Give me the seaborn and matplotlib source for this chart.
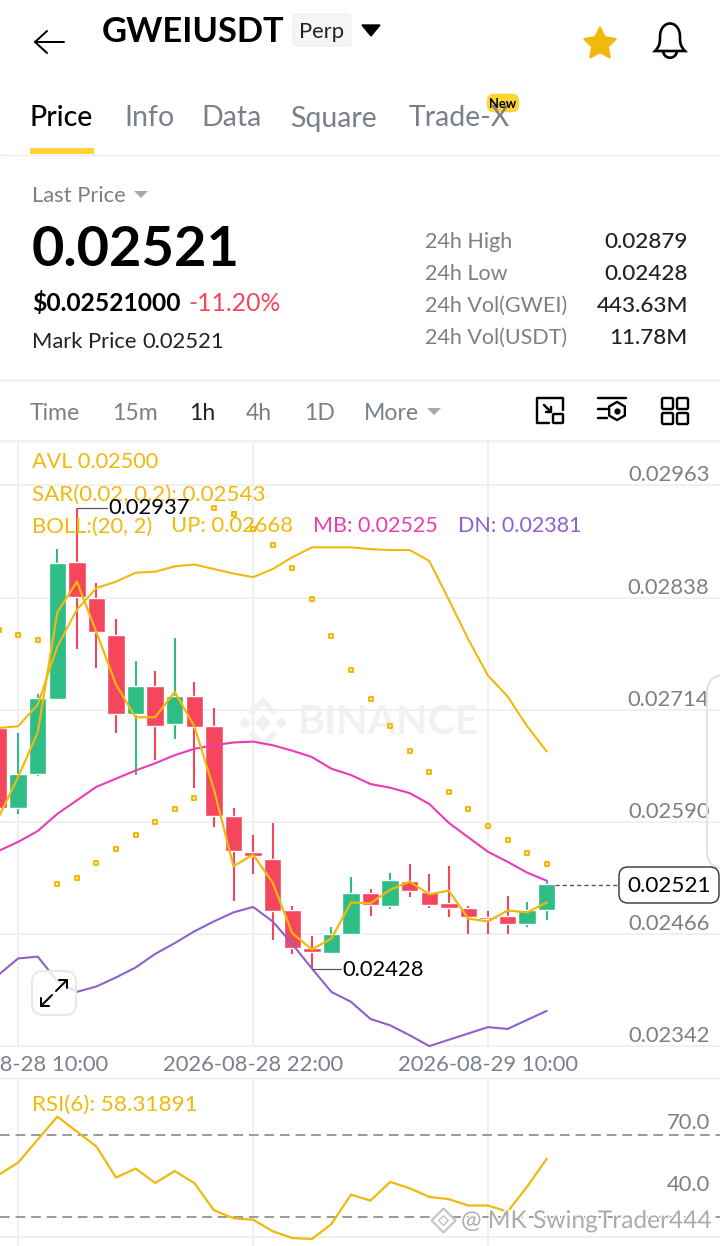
import matplotlib
matplotlib.use("Agg")
import matplotlib.pyplot as plt
import matplotlib.patheffects as pe
from matplotlib.patches import FancyBboxPatch, PathPatch, Polygon, Rectangle
from matplotlib.path import Path
import numpy as np
import seaborn as sns

# candle values (oldest first)
opens = [0.02694, 0.02606, 0.02643, 0.02726, 0.02878, 0.02838, 0.02797, 0.02710, 0.02740, 0.02698,
         0.02730, 0.02696, 0.02597, 0.02557, 0.02549, 0.02493, 0.02451, 0.02445, 0.02466, 0.02511,
         0.02497, 0.02525, 0.02512, 0.02500, 0.02495, 0.02485, 0.02486, 0.02477, 0.02493]
closes = [0.02606, 0.02643, 0.02727, 0.02877, 0.02839, 0.02800, 0.02710, 0.02740, 0.02696, 0.02730,
          0.02695, 0.02597, 0.02558, 0.02552, 0.02492, 0.02451, 0.02446, 0.02466, 0.02511, 0.02498,
          0.02526, 0.02514, 0.02498, 0.02495, 0.02485, 0.02483, 0.02477, 0.02493, 0.02521]
highs = [0.02694, 0.02689, 0.02732, 0.02892, 0.02937, 0.02855, 0.02815, 0.02768, 0.02757, 0.02794,
         0.02745, 0.02716, 0.02605, 0.02576, 0.02589, 0.02497, 0.02464, 0.02474, 0.02529, 0.02516,
         0.02534, 0.02543, 0.02533, 0.02541, 0.02497, 0.02491, 0.02508, 0.02502, 0.02525]
lows = [0.02606, 0.02599, 0.02641, 0.02725, 0.02782, 0.02761, 0.02688, 0.02642, 0.02659, 0.02682,
        0.02628, 0.02584, 0.02503, 0.02533, 0.02459, 0.02444, 0.02428, 0.02444, 0.02466, 0.02486,
        0.02494, 0.02507, 0.02495, 0.02485, 0.02466, 0.02466, 0.02466, 0.02474, 0.02482]

avl = [0.02595, 0.02640, 0.02689, 0.02822, 0.02856, 0.02800, 0.02742, 0.02706, 0.02706, 0.02734,
       0.02696, 0.02626, 0.02541, 0.02554, 0.02523, 0.02467, 0.02449, 0.02461, 0.02501, 0.02500,
       0.02515, 0.02524, 0.02510, 0.02514, 0.02483, 0.02480, 0.02492, 0.02490, 0.02501]
boll_up = [0.02694, 0.02696, 0.02720, 0.02784, 0.02825, 0.02849, 0.02856, 0.02866, 0.02867, 0.02873,
           0.02875, 0.02870, 0.02865, 0.02861, 0.02870, 0.02883, 0.02894, 0.02894, 0.02894, 0.02892,
           0.02891, 0.02891, 0.02879, 0.02836, 0.02792, 0.02752, 0.02729, 0.02696, 0.02668]
boll_mb = [0.02558, 0.02568, 0.02580, 0.02599, 0.02614, 0.02629, 0.02638, 0.02647, 0.02655, 0.02664,
           0.02671, 0.02675, 0.02678, 0.02679, 0.02675, 0.02669, 0.02662, 0.02649, 0.02642, 0.02632,
           0.02628, 0.02622, 0.02610, 0.02589, 0.02573, 0.02557, 0.02546, 0.02534, 0.02525]
boll_dn = [0.02421, 0.02439, 0.02441, 0.02414, 0.02402, 0.02408, 0.02418, 0.02429, 0.02444, 0.02456,
           0.02469, 0.02480, 0.02490, 0.02496, 0.02480, 0.02455, 0.02428, 0.02402, 0.02391, 0.02372,
           0.02365, 0.02354, 0.02342, 0.02349, 0.02356, 0.02363, 0.02361, 0.02371, 0.02381]
sar = [0.02803, 0.02797, 0.02792, 0.02521, 0.02528, 0.02545, 0.02560, 0.02576, 0.02590, 0.02604,
       0.02617, 0.02938, 0.02931, 0.02914, 0.02897, 0.02871, 0.02837, 0.02796, 0.02758, 0.02726,
       0.02696, 0.02669, 0.02645, 0.02623, 0.02604, 0.02586, 0.02570, 0.02556, 0.02543]
rsi = [50.4, 56.4, 67.6, 78.8, 71.5, 64.2, 49.1, 53.5, 46.5, 52.3, 46.4, 33.2, 29.3, 28.6, 23.0,
       19.7, 19.2, 26.5, 40.8, 37.9, 47.0, 43.9, 39.7, 38.6, 35.5, 35.5, 32.5, 44.7, 58.3]

price_ticks = [0.02963, 0.02838, 0.02714, 0.02590, 0.02466, 0.02342]
date_ticks = {1: "2026-08-28 10:00", 13: "2026-08-28 22:00", 25: "2026-08-29 10:00"}
stats = [("24h High", "0.02879"), ("24h Low", "0.02428"),
         ("24h Vol(GWEI)", "443.63M"), ("24h Vol(USDT)", "11.78M")]
tabs = [("Price", 30), ("Info", 124), ("Data", 201), ("Square", 290), ("Trade-X", 409)]
intervals = [("Time", 30), ("15m", 112), ("1h", 189), ("4h", 246), ("1D", 304), ("More", 364)]

GREEN = "#2EBD85"
RED = "#F6465D"
YELLOW = "#F0B90B"
PINK = "#E93CB4"
PURPLE = "#8E60CE"
GREY = "#7A8089"
GRID = "#F0F0F0"
WMARK = "#F1F1F1"
W, H = 720, 1246

sns.set_theme(style="white")
plt.rcParams["font.family"] = ["Lato", "DejaVu Sans"]
plt.rcParams["axes.linewidth"] = 0

fig = plt.figure(figsize=(W / 100, H / 100), dpi=100, facecolor="white")

def px_axes(top, bottom):
    return fig.add_axes([0, 1 - bottom / H, 1, (bottom - top) / H], facecolor="none")

# overlay in screen pixels for the app chrome around the chart
ui = fig.add_axes([0, 0, 1, 1], facecolor="none", zorder=5)
ui.set_xlim(0, W)
ui.set_ylim(H, 0)
ui.axis("off")

def label(x, y, s, size=22, color="black", weight="normal", ha="left", **kw):
    # lato sits a little high with va=center, so nudge down
    return ui.text(x, y + 1.5, s, fontsize=size * 0.72, color=color, fontweight=weight,
                   ha=ha, va="center", **kw)

def stroke(xs, ys, color="black", lw=2.0, **kw):
    ui.plot(xs, ys, color=color, lw=lw * 0.72, solid_capstyle="round", solid_joinstyle="round", **kw)

def rbox(x, y, w, h, r, fc="none", ec="black", lw=2.0, **kw):
    ui.add_patch(FancyBboxPatch((x + r, y + r), w - 2 * r, h - 2 * r, boxstyle=f"round,pad={r}",
                                fc=fc, ec=ec, lw=lw * 0.72, **kw))

# price panel
idx = np.arange(len(opens))
ax = px_axes(441, 1047)
ax.set_xlim(0.073, 36.85)
ax.set_ylim(0.02341, 0.030117)
ax.set_yticks(price_ticks)
ax.set_yticklabels([])
ax.set_xticks(list(date_ticks))
ax.set_xticklabels(list(date_ticks.values()), fontsize=22 * 0.72, color=GREY)
ax.tick_params(length=0, pad=5.5)
ax.grid(True, color=GRID, lw=1.4)
ax.set_axisbelow(True)
for v in price_ticks:
    ax.annotate(f"{v:.5f}", xy=(1, v), xycoords=("axes fraction", "data"), xytext=(-7.6, 0),
                textcoords="offset points", ha="right", va="bottom", fontsize=22 * 0.72, color=GREY)

# binance watermark behind the candles
ax.text(388, 723, "BINANCE", transform=ui.transData, fontsize=41 * 0.72, fontweight="bold",
        color=WMARK, ha="center", va="center", zorder=0.5)
ax.scatter([263, 245, 281], [723, 723, 723], marker="D", s=[55, 26, 26], color=WMARK,
           transform=ui.transData, zorder=0.5)
ax.plot([252, 263, 274], [712, 701, 712], color=WMARK, lw=4, transform=ui.transData, zorder=0.5)
ax.plot([252, 263, 274], [734, 745, 734], color=WMARK, lw=4, transform=ui.transData, zorder=0.5)

for i, o, c, hi, lo in zip(idx, opens, closes, highs, lows):
    col = GREEN if c >= o else RED
    ax.vlines(i, lo, hi, color=col, lw=1.5, zorder=2)
    ax.bar(i, abs(c - o), bottom=min(o, c), width=0.89, color=col, zorder=2.2)

sns.lineplot(x=idx, y=boll_up, ax=ax, color=YELLOW, linewidth=1.5, zorder=3)
sns.lineplot(x=idx, y=boll_mb, ax=ax, color=PINK, linewidth=1.5, zorder=3)
sns.lineplot(x=idx, y=boll_dn, ax=ax, color=PURPLE, linewidth=1.5, zorder=3)
sns.lineplot(x=idx, y=avl, ax=ax, color=YELLOW, linewidth=1.6, zorder=3.2)
sns.scatterplot(x=idx, y=sar, ax=ax, marker="s", s=12, facecolor="#FFF0B8", edgecolor=YELLOW,
                linewidth=1.4, zorder=3.1)

# rsi panel
ax2 = px_axes(1079, H)
ax2.set_xlim(0.073, 36.85)
ax2.set_ylim(15.8, 97.1)
ax2.set_xticks(list(date_ticks))
ax2.set_xticklabels([])
ax2.set_yticks([20])
ax2.set_yticklabels([])
ax2.tick_params(length=0)
ax2.grid(True, color=GRID, lw=1.4)
ax2.set_axisbelow(True)
ax2.axhline(70, color="#9A9A9A", lw=1.4, dashes=(5, 3))
ax2.axhline(30, color="#9A9A9A", lw=1.4, dashes=(5, 3))
sns.lineplot(x=idx, y=rsi, ax=ax2, color=YELLOW, linewidth=1.6, zorder=3)
for v in (70, 40):
    ax2.annotate(f"{v:.1f}", xy=(1, v), xycoords=("axes fraction", "data"), xytext=(-7.2, 1.2),
                 textcoords="offset points", ha="right", va="bottom", fontsize=22 * 0.72, color=GREY)

# header
stroke([35, 64], [42, 42])
stroke([47, 35, 47], [31, 42, 53])
label(102, 31, "GWEIUSDT", size=34.5, weight="bold")
rbox(293, 14, 58, 32, 4, fc="#F5F5F5", ec="#EEEEEE", lw=1)
label(322, 30, "Perp", size=22, ha="center", color="#1E2329")
ui.add_patch(Polygon([(362, 25), (380, 25), (371, 36)], fc="black", ec="black", lw=1))
angles = np.deg2rad(np.arange(-90, 270, 36))
radii = np.tile([16.5, 8.2], 5)
ui.add_patch(Polygon(np.c_[600 + radii * np.cos(angles), 44 + radii * np.sin(angles)],
                     fc=YELLOW, ec=YELLOW, lw=1.6, joinstyle="round"))
bell = Path([(655, 51), (660, 46), (660, 42), (660, 37), (660, 19), (680, 19), (680, 37),
             (680, 42), (680, 46), (685, 51), (655, 51)],
            [Path.MOVETO] + [Path.CURVE4] * 9 + [Path.CLOSEPOLY])
ui.add_patch(PathPatch(bell, fc="none", ec="black", lw=1.9))
clapper = Path([(663, 51), (664, 60), (676, 60), (677, 51)], [Path.MOVETO] + [Path.CURVE4] * 3)
ui.add_patch(PathPatch(clapper, fc="none", ec="black", lw=1.9))

# tabs
for name, x in tabs:
    label(x, 117, name, size=28.5, color="black" if name == "Price" else GREY,
          weight="medium" if name == "Price" else "normal")
ui.add_patch(Rectangle((30, 148), 64, 6, color="#FCD535", lw=0))
ui.plot([0, W], [154.5, 154.5], color="#EEEEEE", lw=1)
rbox(487, 94, 32, 18, 7, fc="#FCD535", ec="#FCD535", lw=0.5)
label(503, 102, "New", size=13, weight="bold", ha="center")

# price summary
label(32, 195, "Last Price", color=GREY)
ui.add_patch(Polygon([(134, 191), (148, 191), (141, 198)], fc="#A8A8A8", ec="none"))
label(32, 249, "0.02521", size=56, weight="bold")
label(32, 302, "$0.02521000", size=24.6, weight="bold")
label(189, 302, "-11.20%", size=24.8, color=RED)
label(32, 341, "Mark Price", color="#1E2329")
label(142, 341, "0.02521", color="#1E2329")
for (name, val), y in zip(stats, [240, 272, 304, 336]):
    label(425, y, name, size=21.5, color=GREY)
    label(688, y, val, size=22.5, ha="right", color="#1E2329", weight="medium")
ui.add_patch(Rectangle((0, 379), W, 2.5, color="#F2F2F2", lw=0))

# interval bar
for name, x in intervals:
    label(x, 412, name, size=23, color="#1E2329" if name == "1h" else GREY)
ui.add_patch(Polygon([(427, 408), (441, 408), (434, 415)], fc="#A8A8A8", ec="none"))
stroke([563, 563, 537, 537, 549], [410, 398, 398, 423, 423], lw=2.4)
rbox(553, 414, 10, 9, 1, lw=2.4)
stroke([544, 551], [405, 412], lw=2.4)
stroke([546, 551, 551], [412, 412, 407], lw=2.4)
stroke([598, 626], [398, 398], lw=2.4)
stroke([598, 607], [409, 409], lw=2.4)
stroke([598, 607], [418, 418], lw=2.4)
ui.scatter([617], [411], marker="h", s=170, facecolor="none", edgecolor="black", linewidth=1.7)
ui.scatter([617], [411], marker="o", s=12, color="black")
for x, y, w, h in [(662, 398, 11, 11), (677, 398, 11, 11), (662, 413, 11, 11), (677, 413, 11, 11)]:
    rbox(x, y, w, h, 1.5, lw=2.4)
ui.add_patch(Rectangle((0, 440), W, 2.5, color="#F2F2F2", lw=0))
ui.plot([0, W], [1078, 1078], color="#EEEEEE", lw=1)

# indicator legend
label(32, 461, "AVL 0.02500", size=21.7, color=YELLOW)
label(32, 493, "SAR(0.02, 0.2): 0.02543", size=22.4, color=YELLOW)
label(32, 525, "BOLL:(20, 2)", color=YELLOW)
label(171, 525, "UP: 0.02668", color=YELLOW)
label(313, 525, "MB: 0.02525", size=21.5, color=PINK)
label(458, 525, "DN: 0.02381", size=21.5, color=PURPLE)
label(32, 1103, "RSI(6): 58.31891", size=22.5, color=YELLOW)

# high/low callouts
stroke([77, 107], [508, 508], color="#555555", lw=1.2)
label(108, 507, "0.02937", size=22)
stroke([312, 341], [969, 969], color="#555555", lw=1.2)
label(342, 968, "0.02428", size=22)

# last price tag
ui.plot([555, 617], [885, 885], color="#555555", lw=1, dashes=(3, 2.2))
rbox(619, 867, 100, 36, 9, fc="white", ec="#333333", lw=1.4)
label(669, 884, "0.02521", size=22.5, ha="center")

# fullscreen button
rbox(32, 971, 44, 44, 11, fc="#FFFFFFCC", ec="#E8E8E8", lw=2)
stroke([56, 67], [991, 980], lw=2)
stroke([59, 67, 67], [980, 980, 988], lw=2)
stroke([52, 41], [995, 1006], lw=2)
stroke([41, 41, 49], [998, 1006, 1006], lw=2)

# side sheet edge
edge = Path([(720, 675), (707, 678), (707, 693), (707, 852), (707, 866), (720, 868)],
            [Path.MOVETO, Path.CURVE3, Path.CURVE3, Path.LINETO, Path.CURVE3, Path.CURVE3])
ui.add_patch(PathPatch(edge, fc="none", ec="#E2E2E2", lw=1.5, zorder=0.5))

# watermark
halo = [pe.withStroke(linewidth=2, foreground="white")]
label(461, 1220, "@ MK SwingTrader444", size=24.5, color="#ABABAB", path_effects=halo)
ui.scatter([443], [1220], marker="D", s=150, facecolor="white", edgecolor="#C4C4C4", linewidth=1.5)
ui.scatter([443], [1220], marker="D", s=24, facecolor="white", edgecolor="#C4C4C4", linewidth=1)

fig.savefig("out.png", dpi=100)
